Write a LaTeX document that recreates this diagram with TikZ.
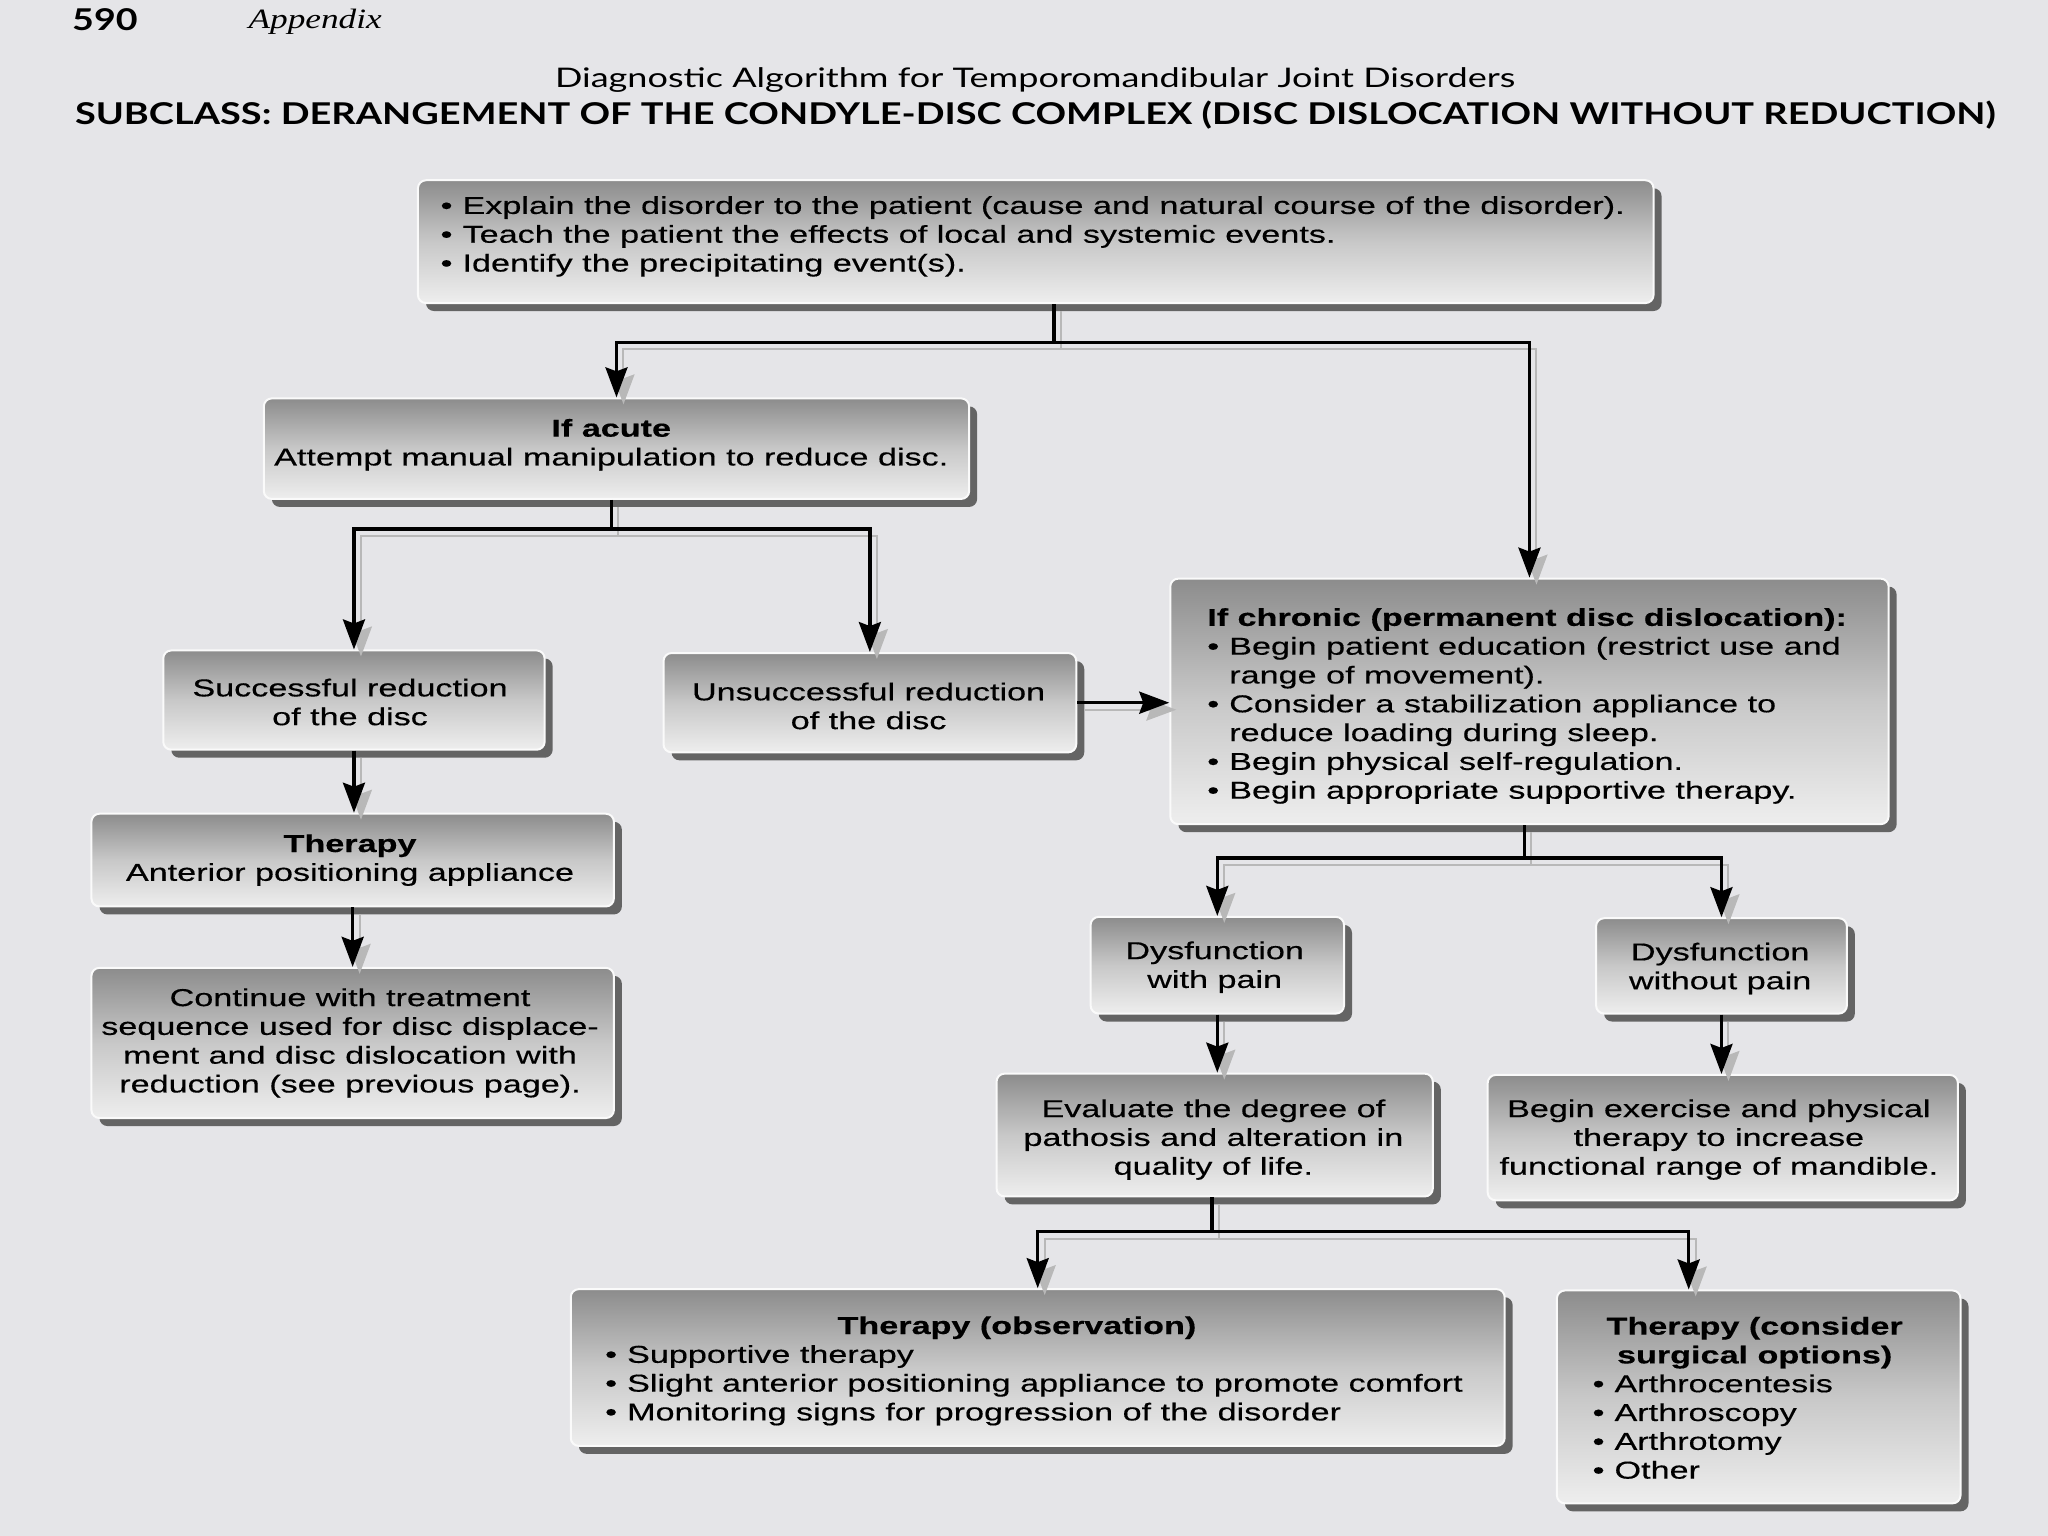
\documentclass[tikz,border=0pt]{standalone}
\usepackage{fontspec}
\usepackage{graphicx}
\usetikzlibrary{arrows.meta,shadows,calc}
\newfontfamily\boxfont[FakeStretch=1.40,FakeBold=0.4]{Liberation Sans}
\newfontfamily\headfont{Lato}
\newfontfamily\pagefont{Liberation Serif}
\definecolor{paper}{RGB}{229,229,232}
\definecolor{boxtop}{RGB}{140,140,140}
\definecolor{boxmid}{RGB}{200,200,200}
\definecolor{boxbot}{RGB}{238,238,238}
\definecolor{shadowc}{RGB}{100,100,100}
\newcommand\bul{\makebox[11pt][l]{\textbullet}}
\begin{document}
\begin{tikzpicture}[x=0.653pt,y=-0.653pt,
  flowbox/.style 2 args={rectangle, rounded corners=4pt,
    minimum width=#1*0.653pt, minimum height=#2*0.653pt, inner sep=0pt,
    top color=boxtop, bottom color=boxbot, middle color=boxmid,
    draw=white!80!paper, line width=1pt,
    drop shadow={shadow xshift=4pt, shadow yshift=-4pt, fill=shadowc, opacity=1}},
  txt/.style={inner sep=0pt, font=\boxfont\fontsize{12.2}{14.4}\selectfont, text=black},
  ghost/.style={preaction={draw=black!28, line width=1pt, transform canvas={shift={(3.5pt,-3.5pt)}}}},
  plainline/.style={line width=1.7pt, ghost},
  conn/.style={line width=1.7pt, ghost, -{Stealth[length=15pt,width=11pt,inset=2pt]}}]

\fill[paper] (0,0) rectangle (1568,1176);
\useasboundingbox (0,0) rectangle (1568,1176);

% page header
\node[anchor=base west, inner sep=0pt] (pgnum) at (55,23)
  {\resizebox{32.7pt}{\height}{\headfont\bfseries\fontsize{15}{17}\selectfont 590}};
\node[anchor=base west, inner sep=0pt] (pghead) at (190,22)
  {\resizebox{66.6pt}{\height}{\pagefont\itshape\fontsize{14}{16}\selectfont Appendix}};
\node[anchor=base, inner sep=0pt] (title) at (792.5,67)
  {\resizebox{480pt}{\height}{\headfont\fontsize{13.5}{16}\selectfont Diagnostic Algorithm for Temporomandibular Joint Disorders}};
\node[anchor=base, inner sep=0pt] (subtitle) at (792.5,95)
  {\resizebox{960pt}{\height}{\headfont\bfseries\fontsize{15}{17}\selectfont SUBCLASS: DERANGEMENT OF THE CONDYLE-DISC COMPLEX (DISC DISLOCATION WITHOUT REDUCTION)}};

% boxes
\node[flowbox={946}{94}] (top) at (793,185) {};
\node[flowbox={540}{77}] (acute) at (472,343.5) {};
\node[flowbox={292}{76}] (succ) at (271,536) {};
\node[flowbox={316}{76}] (unsucc) at (666,538) {};
\node[flowbox={550}{188}] (chronic) at (1171,537) {};
\node[flowbox={400}{71}] (ther) at (270,658.5) {};
\node[flowbox={400}{115}] (cont) at (270,798.5) {};
\node[flowbox={194}{74}] (dwp) at (932,739) {};
\node[flowbox={192}{73}] (dwop) at (1318,739.5) {};
\node[flowbox={334}{94}] (eval) at (930,869) {};
\node[flowbox={360}{96}] (exer) at (1319,871) {};
\node[flowbox={715}{120}] (obs) at (794.5,1047) {};
\node[flowbox={309}{163}] (surg) at (1346.5,1069.5) {};

% texts
\node[txt, anchor=west, align=left] (toptxt) at (337,181)
  {\bul Explain the disorder to the patient (cause and natural course of the disorder).\\
   \bul Teach the patient the effects of local and systemic events.\\
   \bul Identify the precipitating event(s).};
\node[txt, align=center] (acutetxt) at (468,340.5)
  {\textbf{If acute}\\Attempt manual manipulation to reduce disc.};
\node[txt, align=center] (succtxt) at (268,537.5) {Successful reduction\\of the disc};
\node[txt, align=center] (unsucctxt) at (665,540.5) {Unsuccessful reduction\\of the disc};
\node[txt, anchor=west, align=left] (chronictxt) at (924,540.5)
  {\textbf{If chronic (permanent disc dislocation):}\\
   \bul Begin patient education (restrict use and\\
   \hspace*{11pt}range of movement).\\
   \bul Consider a stabilization appliance to\\
   \hspace*{11pt}reduce loading during sleep.\\
   \bul Begin physical self-regulation.\\
   \bul Begin appropriate supportive therapy.};
\node[txt, align=center] (thertxt) at (268,658.5) {\textbf{Therapy}\\Anterior positioning appliance};
\node[txt, align=center] (conttxt) at (268,798.5)
  {Continue with treatment\\sequence used for disc displace-\\ment and disc dislocation with\\reduction (see previous page).};
\node[txt, align=center] (dwptxt) at (930,740.5) {Dysfunction\\with pain};
\node[txt, align=center] (dwoptxt) at (1317,741.5) {Dysfunction\\without pain};
\node[txt, align=center] (evaltxt) at (929,872.5)
  {Evaluate the degree of\\pathosis and alteration in\\quality of life.};
\node[txt, align=center] (exertxt) at (1316,872.5)
  {Begin exercise and physical\\therapy to increase\\functional range of mandible.};
\node[txt, anchor=west] (obstxt) at (463,1050)
  {\begin{tabular}{@{}l@{}}
   \multicolumn{1}{@{}c@{\hspace{17pt}}}{\textbf{Therapy (observation)}}\\
   \bul Supportive therapy\\
   \bul Slight anterior positioning appliance to promote comfort\\
   \bul Monitoring signs for progression of the disorder
   \end{tabular}};
\node[txt, anchor=west] (surgtxt) at (1219,1072.5)
  {\begin{tabular}{@{}l@{}}
   \multicolumn{1}{@{\hspace{7pt}}c@{}}{\textbf{Therapy (consider}}\\
   \multicolumn{1}{@{\hspace{7pt}}c@{}}{\textbf{surgical options)}}\\
   \bul Arthrocentesis\\
   \bul Arthroscopy\\
   \bul Arthrotomy\\
   \bul Other
   \end{tabular}};

% connectors
\coordinate (j1) at (807,262);
\draw[plainline] (top.south -| j1) -- (j1);
\draw[conn] (j1) -| (acute.north);
\draw[conn] (j1) -| (chronic.north);

\coordinate (j2) at (468,405);
\draw[plainline] (acute.south -| j2) -- (j2);
\draw[conn] (j2) -| (succ.north);
\draw[conn] (j2) -| (unsucc.north);

\draw[conn] (unsucc.east) -- (chronic.west |- unsucc.east);
\draw[conn] (succ.south) -- (succ.south |- ther.north);
\draw[conn] (ther.south) -- (ther.south |- cont.north);

\coordinate (j3) at (1167,657);
\draw[plainline] (chronic.south -| j3) -- (j3);
\draw[conn] (j3) -| (dwp.north);
\draw[conn] (j3) -| (dwop.north);

\draw[conn] (dwp.south) -- (dwp.south |- eval.north);
\draw[conn] (dwop.south) -- (dwop.south |- exer.north);

\coordinate (j4) at (928,943);
\draw[plainline] (eval.south -| j4) -- (j4);
\draw[conn] (j4) -| (obs.north);
\draw[conn] (j4) -| ([xshift=-35pt]surg.north);
\end{tikzpicture}
\end{document}
